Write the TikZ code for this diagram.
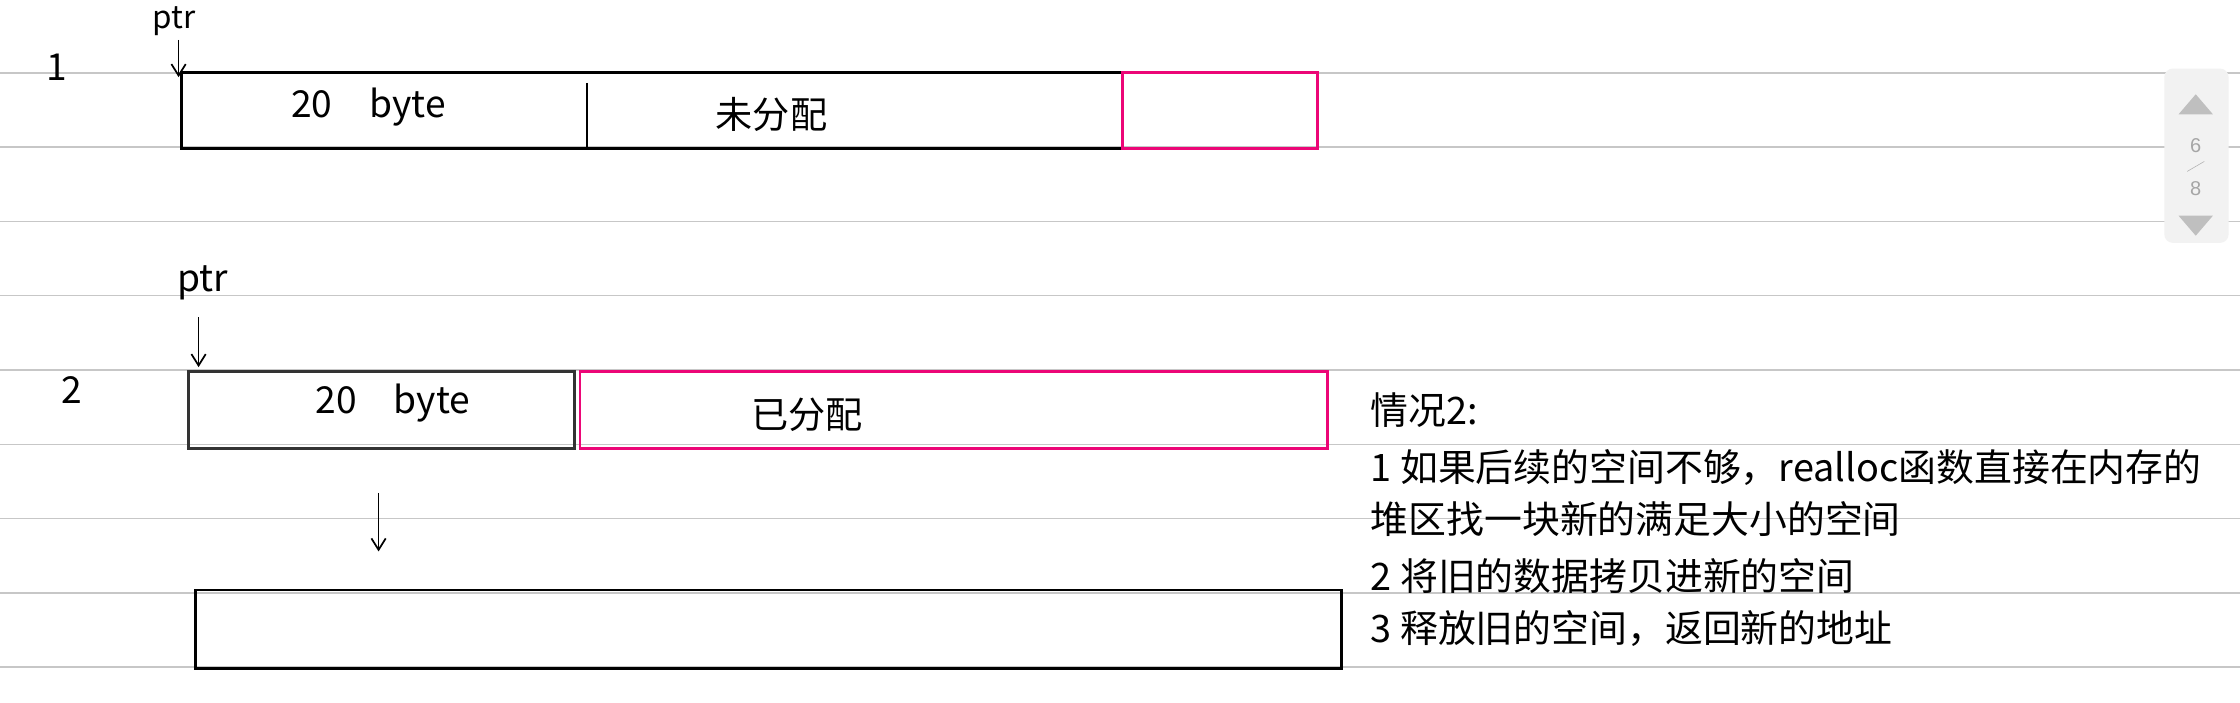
\documentclass[tikz,border=0pt]{standalone}
\usepackage{fontspec}
\setmainfont{Liberation Sans}
\newfontfamily\cjk{Noto Sans CJK SC}
\usetikzlibrary{arrows.meta}
\begin{document}
\begin{tikzpicture}[x=1pt,y=-1pt,
  rule/.style={draw=black!22,line width=1pt},
  blk/.style={draw=black,line width=2pt},
  pnk/.style={draw=magenta!80!red,line width=2pt},
  hand/.style={font=\cjk\fontsize{26}{28}\selectfont},
  txt/.style={font=\cjk\fontsize{26.5}{30}\selectfont,anchor=west},
  arr/.style={-{Straight Barb[length=8pt,width=10pt]},line width=1.2pt}]
\useasboundingbox[fill=white] (0,0) rectangle (1568,492);
\foreach \y in {51,103,155,207,259,311,363,415,467}
  \draw[rule] (0,\y) -- (1568,\y);
% scrollbar
\fill[black!5,rounded corners=6pt] (1515,48) rectangle (1560,170);
\fill[black!25] (1525,80) -- (1549,80) -- (1537,66) -- cycle;
\fill[black!25] (1525,151) -- (1549,151) -- (1537,165) -- cycle;
\node[text=black!35,font=\fontsize{14}{14}\selectfont] (p6) at (1537,102) {6};
\node[text=black!35,font=\fontsize{14}{14}\selectfont] (p8) at (1537,132) {8};
\draw[black!30] (1531,120) -- (1543,113);
% row 1
\node[hand] (n1) at (40,47) {1};
\node[hand,font=\cjk\fontsize{22}{24}\selectfont] (ptr1) at (122,15) {ptr};
\coordinate (a0) at (125,28);
\coordinate (a1) at (125,54);
\draw[arr] (a0) -- (a1);
\node[blk,minimum width=659,minimum height=53,anchor=north west,inner sep=0] (b1) at (126,50) {};
\draw[line width=1.5pt] (411,58) -- (411,103);
\node[hand] (t1) at (258,75) {20\quad byte};
\node[hand] (t2) at (540,80) {未分配};
\node[pnk,minimum width=136,minimum height=53,anchor=north west,inner sep=0] (r1) at (785,50) {};
% row 2
\node[hand] (ptr2) at (142,198) {ptr};
\coordinate (a3) at (139,222);
\coordinate (a2) at (139,257);
\draw[arr] (a3) -- (a2);
\node[hand] (n2) at (50,273) {2};
\node[draw=black!80,line width=2pt,minimum width=270,minimum height=54,anchor=north west,inner sep=0] (b2) at (131,259) {};
\node[hand] (t3) at (275,282) {20\quad byte};
\node[pnk,minimum width=523,minimum height=54,anchor=north west,inner sep=0] (r2) at (405,259) {};
\node[hand] (t4) at (565,290) {已分配};
\coordinate (d1) at (265,345);
\coordinate (d2) at (265,386);
\draw[arr] (d1) -- (d2);
\node[blk,minimum width=802,minimum height=55,anchor=north west,inner sep=0] (b3) at (136,412) {};
% text
\node[txt] (s0) at (956,287) {情况2:};
\node[txt] (s1) at (956,327) {1 如果后续的空间不够，realloc函数直接在内存的};
\node[txt] (s2) at (956,363) {堆区找一块新的满足大小的空间};
\node[txt] (s3) at (956,403) {2 将旧的数据拷贝进新的空间};
\node[txt] (s4) at (956,440) {3 释放旧的空间，返回新的地址};
\end{tikzpicture}
\end{document}
